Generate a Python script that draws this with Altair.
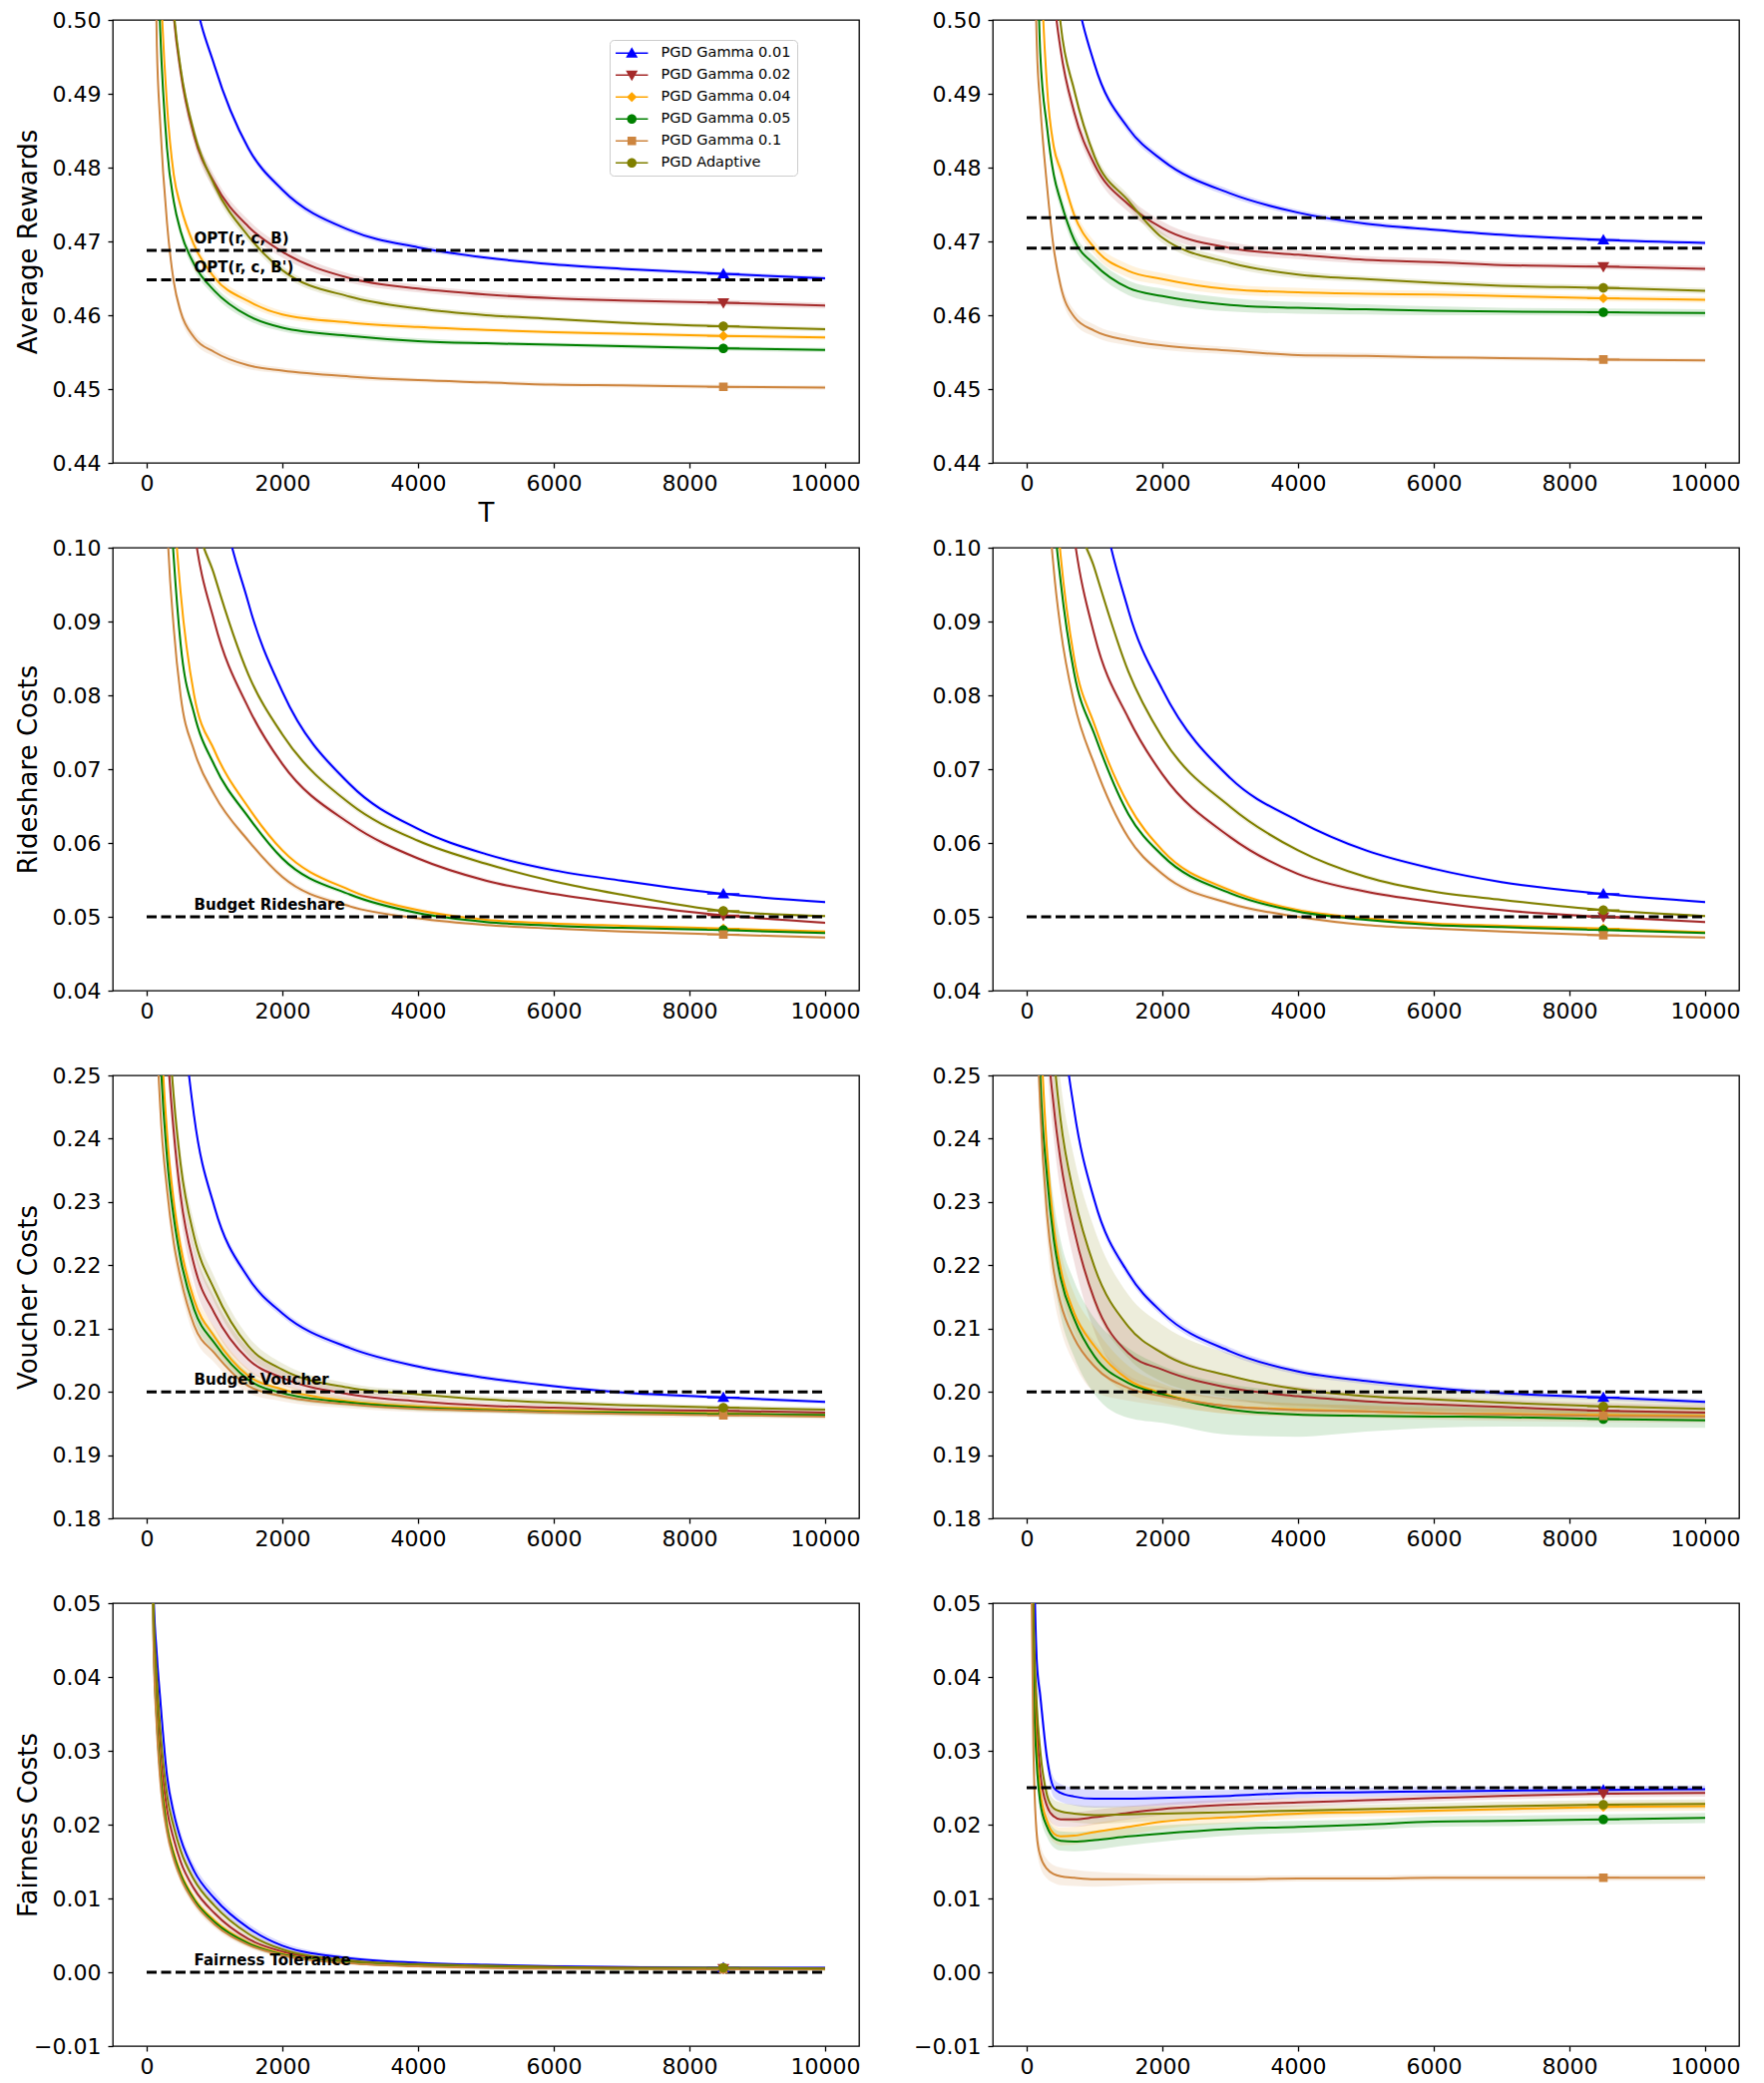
import altair as alt
import pandas as pd

FONT = "DejaVu Sans"

T = [50, 100, 150, 200, 300, 400, 500, 700, 1000, 1500, 2000, 3000, 4000, 5000, 6000, 7000, 8500, 10000]
MARKER_T = 8500
XTICKS = [0, 2000, 4000, 6000, 8000, 10000]
HLINE_T = [0, 10000]
LABEL_T = 700

SERIES = ["PGD Gamma 0.01", "PGD Gamma 0.02", "PGD Gamma 0.04",
          "PGD Gamma 0.05", "PGD Gamma 0.1", "PGD Adaptive"]
COLORS = ["#0000ff", "#a52a2a", "#ffa500", "#008000", "#cd853f", "#808000"]

_seg = "M-2.7,-0.13H2.7V0.13H-2.7Z"
_circ = "M-0.8,0A0.8,0.8 0 1,1 0.8,0A0.8,0.8 0 1,1 -0.8,0Z"
SHAPES = [_seg + "M0,-1L1,0.75H-1Z",
          _seg + "M-1,-0.75H1L0,1Z",
          _seg + "M0,-0.85L0.85,0L0,0.85L-0.85,0Z",
          _seg + _circ,
          _seg + "M-0.72,-0.72H0.72V0.72H-0.72Z",
          _seg + _circ]

# ---------------- Average Rewards ----------------
REW_L = {
    "PGD Gamma 0.01": [0.80, 0.66, 0.61, 0.58, 0.548, 0.530, 0.518, 0.5040, 0.4938, 0.4826, 0.4770, 0.4715, 0.4692, 0.4678, 0.4669, 0.4663, 0.4656, 0.4650],
    "PGD Gamma 0.02": [0.75, 0.62, 0.57, 0.545, 0.515, 0.5005, 0.4930, 0.4843, 0.4779, 0.4720, 0.4686, 0.4650, 0.4636, 0.4628, 0.4623, 0.4620, 0.4617, 0.4613],
    "PGD Gamma 0.04": [0.65, 0.557, 0.524, 0.507, 0.4885, 0.4790, 0.4748, 0.4695, 0.4651, 0.4619, 0.4601, 0.4590, 0.4584, 0.4580, 0.4577, 0.4575, 0.4572, 0.4570],
    "PGD Gamma 0.05": [0.62, 0.54, 0.513, 0.4985, 0.4826, 0.4754, 0.4714, 0.4669, 0.4633, 0.4599, 0.4583, 0.4572, 0.4565, 0.4562, 0.4560, 0.4558, 0.4555, 0.4553],
    "PGD Gamma 0.1":  [0.58, 0.525, 0.4965, 0.4860, 0.4725, 0.4645, 0.4605, 0.4570, 0.4550, 0.4532, 0.4525, 0.4517, 0.4512, 0.4509, 0.4506, 0.4505, 0.4503, 0.4502],
    "PGD Adaptive":   [0.75, 0.62, 0.57, 0.545, 0.516, 0.5012, 0.4935, 0.4847, 0.4776, 0.4707, 0.4661, 0.4625, 0.4609, 0.4600, 0.4595, 0.4590, 0.4585, 0.4581],
}
BAND_REW_L = {
    "PGD Gamma 0.01": [0.0010, 0.0010, 0.0010, 0.0010, 0.0009, 0.0008, 0.0008, 0.0007, 0.0006, 0.0005, 0.0005, 0.0004, 0.0004, 0.0003, 0.0003, 0.0003, 0.0003, 0.0003],
    "PGD Gamma 0.02": [0.0015, 0.0015, 0.0015, 0.0015, 0.0014, 0.0013, 0.0012, 0.0011, 0.0010, 0.0009, 0.0008, 0.0006, 0.0005, 0.0005, 0.0004, 0.0004, 0.0004, 0.0004],
    "PGD Gamma 0.04": [0.0010, 0.0010, 0.0010, 0.0010, 0.0009, 0.0009, 0.0008, 0.0008, 0.0007, 0.0006, 0.0005, 0.0004, 0.0004, 0.0003, 0.0003, 0.0003, 0.0003, 0.0003],
    "PGD Gamma 0.05": [0.0010, 0.0010, 0.0010, 0.0010, 0.0009, 0.0009, 0.0008, 0.0008, 0.0007, 0.0006, 0.0005, 0.0004, 0.0004, 0.0003, 0.0003, 0.0003, 0.0003, 0.0003],
    "PGD Gamma 0.1":  [0.0010, 0.0010, 0.0010, 0.0010, 0.0009, 0.0008, 0.0008, 0.0007, 0.0006, 0.0005, 0.0004, 0.0004, 0.0003, 0.0003, 0.0003, 0.0003, 0.0003, 0.0003],
    "PGD Adaptive":   [0.0012, 0.0012, 0.0012, 0.0012, 0.0011, 0.0010, 0.0009, 0.0008, 0.0008, 0.0007, 0.0006, 0.0005, 0.0004, 0.0004, 0.0003, 0.0003, 0.0003, 0.0003],
}
REW_R = {
    "PGD Gamma 0.01": [0.75, 0.68, 0.64, 0.60, 0.555, 0.533, 0.520, 0.5055, 0.4940, 0.4853, 0.4810, 0.4765, 0.4739, 0.4724, 0.4716, 0.4709, 0.4702, 0.4698],
    "PGD Gamma 0.02": [0.68, 0.60, 0.565, 0.545, 0.518, 0.5035, 0.4960, 0.4875, 0.4804, 0.4750, 0.4718, 0.4691, 0.4682, 0.4675, 0.4672, 0.4668, 0.4666, 0.4663],
    "PGD Gamma 0.04": [0.62, 0.57, 0.535, 0.512, 0.491, 0.4828, 0.4797, 0.4736, 0.4691, 0.4660, 0.4649, 0.4635, 0.4631, 0.4629, 0.4628, 0.4626, 0.4623, 0.4621],
    "PGD Gamma 0.05": [0.60, 0.55, 0.515, 0.4955, 0.4855, 0.4790, 0.4755, 0.4702, 0.4669, 0.4637, 0.4626, 0.4614, 0.4610, 0.4608, 0.4606, 0.4605, 0.4604, 0.4603],
    "PGD Gamma 0.1":  [0.60, 0.525, 0.4965, 0.4885, 0.4775, 0.4690, 0.4640, 0.4598, 0.4579, 0.4566, 0.4559, 0.4552, 0.4546, 0.4545, 0.4543, 0.4542, 0.4540, 0.4539],
    "PGD Adaptive":   [0.72, 0.63, 0.585, 0.56, 0.527, 0.5100, 0.4995, 0.4905, 0.4815, 0.4755, 0.4705, 0.4671, 0.4655, 0.4649, 0.4644, 0.4640, 0.4637, 0.4633],
}
BAND_REW_R = {
    "PGD Gamma 0.01": [0.0010, 0.0010, 0.0010, 0.0010, 0.0009, 0.0008, 0.0008, 0.0007, 0.0006, 0.0006, 0.0005, 0.0005, 0.0004, 0.0004, 0.0003, 0.0003, 0.0003, 0.0003],
    "PGD Gamma 0.02": [0.0015, 0.0015, 0.0015, 0.0014, 0.0013, 0.0012, 0.0012, 0.0011, 0.0010, 0.0010, 0.0009, 0.0008, 0.0006, 0.0005, 0.0005, 0.0004, 0.0004, 0.0004],
    "PGD Gamma 0.04": [0.0012, 0.0012, 0.0012, 0.0012, 0.0011, 0.0010, 0.0010, 0.0009, 0.0009, 0.0009, 0.0008, 0.0007, 0.0006, 0.0005, 0.0005, 0.0004, 0.0004, 0.0004],
    "PGD Gamma 0.05": [0.0012, 0.0012, 0.0012, 0.0012, 0.0011, 0.0011, 0.0011, 0.0010, 0.0010, 0.0010, 0.0010, 0.0009, 0.0008, 0.0007, 0.0006, 0.0005, 0.0005, 0.0005],
    "PGD Gamma 0.1":  [0.0012, 0.0012, 0.0012, 0.0012, 0.0011, 0.0010, 0.0010, 0.0009, 0.0008, 0.0007, 0.0006, 0.0005, 0.0004, 0.0004, 0.0003, 0.0003, 0.0003, 0.0003],
    "PGD Adaptive":   [0.0012, 0.0012, 0.0012, 0.0012, 0.0011, 0.0010, 0.0010, 0.0009, 0.0008, 0.0008, 0.0007, 0.0006, 0.0005, 0.0004, 0.0004, 0.0004, 0.0004, 0.0004],
}

# ---------------- Rideshare Costs ----------------
RIDE_L = {
    "PGD Gamma 0.01": [1.00, 0.75, 0.51, 0.40, 0.28, 0.22, 0.185, 0.145, 0.114, 0.0925, 0.0805, 0.0679, 0.0619, 0.0585, 0.0563, 0.0549, 0.0531, 0.0520],
    "PGD Gamma 0.02": [0.60, 0.35, 0.26, 0.21, 0.16, 0.135, 0.12, 0.1025, 0.0899, 0.0783, 0.0707, 0.0626, 0.0579, 0.0549, 0.0531, 0.0518, 0.0502, 0.0492],
    "PGD Gamma 0.04": [0.50, 0.28, 0.205, 0.165, 0.125, 0.106, 0.094, 0.080, 0.0725, 0.0648, 0.0590, 0.0536, 0.0509, 0.0496, 0.0491, 0.0488, 0.0484, 0.0480],
    "PGD Gamma 0.05": [0.45, 0.25, 0.185, 0.15, 0.115, 0.0985, 0.087, 0.0775, 0.0705, 0.0635, 0.0579, 0.0530, 0.0505, 0.0493, 0.0488, 0.0485, 0.0482, 0.0478],
    "PGD Gamma 0.1":  [0.40, 0.23, 0.17, 0.14, 0.104, 0.089, 0.080, 0.0725, 0.0665, 0.0603, 0.0554, 0.0514, 0.0498, 0.0489, 0.0484, 0.0480, 0.0476, 0.0472],
    "PGD Adaptive":   [0.70, 0.40, 0.30, 0.24, 0.175, 0.145, 0.125, 0.106, 0.0962, 0.0828, 0.0747, 0.0653, 0.0603, 0.0572, 0.0548, 0.0530, 0.0508, 0.0501],
}
RIDE_R = {
    "PGD Gamma 0.01": [1.00, 0.75, 0.50, 0.39, 0.27, 0.21, 0.178, 0.140, 0.113, 0.0915, 0.0808, 0.0688, 0.0630, 0.0590, 0.0565, 0.0547, 0.0531, 0.0520],
    "PGD Gamma 0.02": [0.60, 0.35, 0.26, 0.21, 0.16, 0.133, 0.118, 0.1015, 0.0881, 0.0769, 0.0693, 0.0608, 0.0558, 0.0534, 0.0520, 0.0509, 0.0500, 0.0493],
    "PGD Gamma 0.04": [0.50, 0.29, 0.21, 0.17, 0.13, 0.11, 0.099, 0.085, 0.0760, 0.0652, 0.0590, 0.0536, 0.0509, 0.0498, 0.0491, 0.0488, 0.0484, 0.0479],
    "PGD Gamma 0.05": [0.48, 0.28, 0.20, 0.16, 0.125, 0.105, 0.0955, 0.083, 0.0747, 0.0639, 0.0583, 0.0532, 0.0507, 0.0496, 0.0489, 0.0486, 0.0482, 0.0478],
    "PGD Gamma 0.1":  [0.40, 0.23, 0.17, 0.14, 0.11, 0.097, 0.089, 0.079, 0.0706, 0.0607, 0.0558, 0.0518, 0.0500, 0.0489, 0.0484, 0.0480, 0.0475, 0.0472],
    "PGD Adaptive":   [0.70, 0.40, 0.30, 0.24, 0.175, 0.145, 0.125, 0.1065, 0.0972, 0.0832, 0.0743, 0.0649, 0.0590, 0.0554, 0.0534, 0.0523, 0.0509, 0.0501],
}
BAND_RIDE = {
    "PGD Gamma 0.01": [0.0008, 0.0008, 0.0008, 0.0008, 0.0008, 0.0008, 0.0008, 0.0007, 0.0006, 0.0005, 0.0005, 0.0004, 0.0003, 0.0003, 0.0003, 0.0002, 0.0002, 0.0002],
    "PGD Gamma 0.02": [0.0008, 0.0008, 0.0008, 0.0008, 0.0008, 0.0008, 0.0008, 0.0007, 0.0006, 0.0005, 0.0004, 0.0004, 0.0003, 0.0003, 0.0002, 0.0002, 0.0002, 0.0002],
    "PGD Gamma 0.04": [0.0008, 0.0008, 0.0008, 0.0008, 0.0008, 0.0007, 0.0007, 0.0006, 0.0005, 0.0004, 0.0004, 0.0003, 0.0003, 0.0002, 0.0002, 0.0002, 0.0002, 0.0002],
    "PGD Gamma 0.05": [0.0008, 0.0008, 0.0008, 0.0008, 0.0008, 0.0007, 0.0007, 0.0006, 0.0005, 0.0004, 0.0004, 0.0003, 0.0003, 0.0002, 0.0002, 0.0002, 0.0002, 0.0002],
    "PGD Gamma 0.1":  [0.0008, 0.0008, 0.0008, 0.0008, 0.0008, 0.0007, 0.0007, 0.0006, 0.0005, 0.0004, 0.0004, 0.0003, 0.0003, 0.0002, 0.0002, 0.0002, 0.0002, 0.0002],
    "PGD Adaptive":   [0.0008, 0.0008, 0.0008, 0.0008, 0.0008, 0.0008, 0.0008, 0.0007, 0.0006, 0.0005, 0.0004, 0.0004, 0.0003, 0.0003, 0.0002, 0.0002, 0.0002, 0.0002],
}

# ---------------- Voucher Costs ----------------
VOU_L = {
    "PGD Gamma 0.01": [0.60, 0.45, 0.40, 0.36, 0.309, 0.281, 0.264, 0.2435, 0.2292, 0.2180, 0.2124, 0.2069, 0.2040, 0.2022, 0.2009, 0.1999, 0.1991, 0.1984],
    "PGD Gamma 0.02": [0.52, 0.37, 0.315, 0.285, 0.256, 0.241, 0.231, 0.220, 0.2124, 0.2051, 0.2022, 0.1996, 0.1985, 0.1978, 0.1975, 0.1972, 0.1970, 0.1967],
    "PGD Gamma 0.04": [0.45, 0.33, 0.285, 0.262, 0.241, 0.230, 0.223, 0.2145, 0.2087, 0.2025, 0.2004, 0.1985, 0.1977, 0.1973, 0.1970, 0.1968, 0.1966, 0.1963],
    "PGD Gamma 0.05": [0.42, 0.31, 0.27, 0.254, 0.237, 0.2275, 0.221, 0.213, 0.2077, 0.2019, 0.1998, 0.1983, 0.1975, 0.1971, 0.1968, 0.1967, 0.1965, 0.1963],
    "PGD Gamma 0.1":  [0.40, 0.29, 0.258, 0.245, 0.232, 0.2235, 0.218, 0.2105, 0.2061, 0.2009, 0.1993, 0.1980, 0.1973, 0.1970, 0.1967, 0.1965, 0.1963, 0.1961],
    "PGD Adaptive":   [0.55, 0.39, 0.33, 0.295, 0.263, 0.2465, 0.236, 0.2245, 0.2161, 0.2072, 0.2035, 0.2006, 0.1996, 0.1988, 0.1983, 0.1979, 0.1975, 0.1972],
}
BAND_VOU_L = {
    "PGD Gamma 0.01": [0.0010, 0.0010, 0.0010, 0.0010, 0.0010, 0.0010, 0.0010, 0.0009, 0.0008, 0.0007, 0.0006, 0.0005, 0.0004, 0.0004, 0.0003, 0.0003, 0.0003, 0.0003],
    "PGD Gamma 0.02": [0.0030, 0.0030, 0.0030, 0.0030, 0.0030, 0.0030, 0.0030, 0.0028, 0.0025, 0.0018, 0.0012, 0.0008, 0.0006, 0.0005, 0.0005, 0.0004, 0.0004, 0.0004],
    "PGD Gamma 0.04": [0.0020, 0.0020, 0.0020, 0.0020, 0.0020, 0.0020, 0.0018, 0.0017, 0.0015, 0.0011, 0.0008, 0.0006, 0.0005, 0.0004, 0.0004, 0.0004, 0.0004, 0.0004],
    "PGD Gamma 0.05": [0.0020, 0.0020, 0.0020, 0.0020, 0.0020, 0.0020, 0.0018, 0.0017, 0.0015, 0.0011, 0.0008, 0.0006, 0.0005, 0.0004, 0.0004, 0.0004, 0.0004, 0.0004],
    "PGD Gamma 0.1":  [0.0020, 0.0020, 0.0020, 0.0020, 0.0020, 0.0020, 0.0018, 0.0017, 0.0015, 0.0011, 0.0008, 0.0006, 0.0005, 0.0004, 0.0004, 0.0004, 0.0004, 0.0004],
    "PGD Adaptive":   [0.0025, 0.0025, 0.0025, 0.0025, 0.0025, 0.0024, 0.0023, 0.0022, 0.0020, 0.0015, 0.0010, 0.0007, 0.0006, 0.0005, 0.0005, 0.0004, 0.0004, 0.0004],
}
VOU_R = {
    "PGD Gamma 0.01": [0.65, 0.47, 0.40, 0.355, 0.305, 0.278, 0.262, 0.2445, 0.2302, 0.2187, 0.2125, 0.2064, 0.2032, 0.2017, 0.2006, 0.1998, 0.1991, 0.1984],
    "PGD Gamma 0.02": [0.52, 0.37, 0.32, 0.29, 0.258, 0.245, 0.2365, 0.2255, 0.2145, 0.2061, 0.2035, 0.2006, 0.1993, 0.1985, 0.1980, 0.1976, 0.1970, 0.1967],
    "PGD Gamma 0.04": [0.44, 0.32, 0.28, 0.26, 0.238, 0.226, 0.2195, 0.2125, 0.2072, 0.2019, 0.1998, 0.1977, 0.1972, 0.1969, 0.1966, 0.1965, 0.1963, 0.1962],
    "PGD Gamma 0.05": [0.41, 0.30, 0.268, 0.25, 0.234, 0.224, 0.218, 0.2115, 0.2056, 0.2014, 0.1996, 0.1972, 0.1964, 0.1962, 0.1961, 0.1960, 0.1957, 0.1955],
    "PGD Gamma 0.1":  [0.40, 0.29, 0.26, 0.245, 0.228, 0.219, 0.214, 0.2085, 0.2040, 0.2006, 0.1993, 0.1977, 0.1971, 0.1969, 0.1966, 0.1964, 0.1962, 0.1961],
    "PGD Adaptive":   [0.56, 0.40, 0.345, 0.31, 0.272, 0.2535, 0.243, 0.231, 0.2197, 0.2103, 0.2061, 0.2025, 0.2004, 0.1993, 0.1988, 0.1983, 0.1977, 0.1973],
}
BAND_VOU_R = {
    "PGD Gamma 0.01": [0.0010, 0.0010, 0.0010, 0.0010, 0.0010, 0.0010, 0.0010, 0.0009, 0.0008, 0.0007, 0.0006, 0.0006, 0.0005, 0.0005, 0.0004, 0.0004, 0.0004, 0.0004],
    "PGD Gamma 0.02": [0.0050, 0.0050, 0.0050, 0.0050, 0.0050, 0.0050, 0.0050, 0.0050, 0.0050, 0.0040, 0.0030, 0.0020, 0.0015, 0.0013, 0.0012, 0.0012, 0.0012, 0.0012],
    "PGD Gamma 0.04": [0.0030, 0.0030, 0.0030, 0.0030, 0.0030, 0.0030, 0.0030, 0.0030, 0.0030, 0.0022, 0.0015, 0.0012, 0.0010, 0.0009, 0.0008, 0.0008, 0.0008, 0.0008],
    "PGD Gamma 0.05": [0.0060, 0.0060, 0.0060, 0.0060, 0.0060, 0.0060, 0.0060, 0.0060, 0.0060, 0.0055, 0.0045, 0.0040, 0.0035, 0.0025, 0.0018, 0.0015, 0.0013, 0.0012],
    "PGD Gamma 0.1":  [0.0040, 0.0040, 0.0040, 0.0040, 0.0040, 0.0040, 0.0040, 0.0040, 0.0040, 0.0020, 0.0015, 0.0012, 0.0010, 0.0010, 0.0010, 0.0010, 0.0010, 0.0010],
    "PGD Adaptive":   [0.0060, 0.0060, 0.0060, 0.0060, 0.0060, 0.0060, 0.0060, 0.0060, 0.0060, 0.0050, 0.0045, 0.0035, 0.0030, 0.0022, 0.0018, 0.0015, 0.0013, 0.0012],
}

# ---------------- Fairness Costs ----------------
FAIR_L = {
    "PGD Gamma 0.01": [0.10, 0.052, 0.043, 0.037, 0.0266, 0.0215, 0.0181, 0.0137, 0.0100, 0.0060, 0.0036, 0.0019, 0.0013, 0.0010, 0.0008, 0.0007, 0.0006, 0.0006],
    "PGD Gamma 0.02": [0.10, 0.048, 0.037, 0.030, 0.022, 0.018, 0.0150, 0.0113, 0.0080, 0.0045, 0.0028, 0.0015, 0.0010, 0.0008, 0.0007, 0.0006, 0.0005, 0.0005],
    "PGD Gamma 0.04": [0.10, 0.047, 0.035, 0.028, 0.020, 0.0162, 0.0135, 0.0100, 0.0070, 0.0040, 0.0025, 0.0013, 0.0009, 0.0007, 0.0006, 0.0005, 0.0005, 0.0004],
    "PGD Gamma 0.05": [0.10, 0.046, 0.034, 0.027, 0.0195, 0.0158, 0.0132, 0.0098, 0.0068, 0.0039, 0.0024, 0.0013, 0.0009, 0.0007, 0.0006, 0.0005, 0.0005, 0.0004],
    "PGD Gamma 0.1":  [0.10, 0.045, 0.033, 0.026, 0.019, 0.0153, 0.0128, 0.0095, 0.0065, 0.0037, 0.0023, 0.0012, 0.0008, 0.0006, 0.0005, 0.0005, 0.0004, 0.0004],
    "PGD Adaptive":   [0.10, 0.050, 0.040, 0.033, 0.024, 0.0197, 0.0165, 0.0125, 0.0090, 0.0052, 0.0031, 0.0016, 0.0011, 0.0009, 0.0007, 0.0006, 0.0006, 0.0005],
}
BAND_FAIR_L = {
    "PGD Gamma 0.01": [0.0020, 0.0020, 0.0018, 0.0016, 0.0014, 0.0012, 0.0010, 0.0009, 0.0008, 0.0006, 0.0005, 0.0003, 0.0002, 0.0002, 0.0002, 0.0002, 0.0002, 0.0002],
    "PGD Gamma 0.02": [0.0015, 0.0015, 0.0013, 0.0011, 0.0009, 0.0008, 0.0007, 0.0006, 0.0005, 0.0004, 0.0003, 0.0002, 0.0002, 0.0002, 0.0002, 0.0002, 0.0002, 0.0002],
    "PGD Gamma 0.04": [0.0015, 0.0015, 0.0013, 0.0011, 0.0009, 0.0008, 0.0007, 0.0006, 0.0005, 0.0004, 0.0003, 0.0002, 0.0002, 0.0002, 0.0002, 0.0002, 0.0002, 0.0002],
    "PGD Gamma 0.05": [0.0015, 0.0015, 0.0013, 0.0011, 0.0009, 0.0008, 0.0007, 0.0006, 0.0005, 0.0004, 0.0003, 0.0002, 0.0002, 0.0002, 0.0002, 0.0002, 0.0002, 0.0002],
    "PGD Gamma 0.1":  [0.0015, 0.0015, 0.0013, 0.0011, 0.0009, 0.0008, 0.0007, 0.0006, 0.0005, 0.0004, 0.0003, 0.0002, 0.0002, 0.0002, 0.0002, 0.0002, 0.0002, 0.0002],
    "PGD Adaptive":   [0.0015, 0.0015, 0.0013, 0.0011, 0.0009, 0.0008, 0.0007, 0.0006, 0.0005, 0.0004, 0.0003, 0.0002, 0.0002, 0.0002, 0.0002, 0.0002, 0.0002, 0.0002],
}
FAIR_R = {
    "PGD Gamma 0.01": [0.09, 0.060, 0.042, 0.0375, 0.0290, 0.0250, 0.0243, 0.0238, 0.0235, 0.0235, 0.0236, 0.0239, 0.0243, 0.0244, 0.0245, 0.0246, 0.0247, 0.0248],
    "PGD Gamma 0.02": [0.09, 0.045, 0.033, 0.027, 0.0225, 0.0211, 0.0207, 0.0207, 0.0210, 0.0216, 0.0221, 0.0227, 0.0230, 0.0233, 0.0236, 0.0239, 0.0242, 0.0243],
    "PGD Gamma 0.04": [0.085, 0.042, 0.030, 0.0245, 0.0205, 0.0188, 0.0184, 0.0185, 0.0190, 0.0197, 0.0204, 0.0210, 0.0215, 0.0217, 0.0219, 0.0221, 0.0224, 0.0225],
    "PGD Gamma 0.05": [0.08, 0.040, 0.028, 0.0230, 0.0197, 0.0182, 0.0178, 0.0177, 0.0179, 0.0184, 0.0188, 0.0194, 0.0197, 0.0200, 0.0204, 0.0205, 0.0207, 0.0209],
    "PGD Gamma 0.1":  [0.07, 0.030, 0.0185, 0.0158, 0.0140, 0.0133, 0.0130, 0.0128, 0.0126, 0.0126, 0.0126, 0.0126, 0.0127, 0.0127, 0.0128, 0.0128, 0.0128, 0.0128],
    "PGD Adaptive":   [0.09, 0.050, 0.036, 0.030, 0.024, 0.0222, 0.0218, 0.0215, 0.0213, 0.0214, 0.0215, 0.0217, 0.0219, 0.0221, 0.0223, 0.0225, 0.0227, 0.0228],
}
BAND_FAIR_R = {
    "PGD Gamma 0.01": [0.0030, 0.0030, 0.0025, 0.0020, 0.0015, 0.0013, 0.0012, 0.0012, 0.0012, 0.0011, 0.0010, 0.0008, 0.0007, 0.0006, 0.0006, 0.0005, 0.0005, 0.0005],
    "PGD Gamma 0.02": [0.0030, 0.0025, 0.0020, 0.0015, 0.0012, 0.0011, 0.0010, 0.0010, 0.0010, 0.0009, 0.0008, 0.0007, 0.0006, 0.0005, 0.0005, 0.0005, 0.0005, 0.0005],
    "PGD Gamma 0.04": [0.0030, 0.0025, 0.0020, 0.0015, 0.0013, 0.0012, 0.0012, 0.0012, 0.0012, 0.0011, 0.0010, 0.0008, 0.0007, 0.0006, 0.0006, 0.0006, 0.0006, 0.0006],
    "PGD Gamma 0.05": [0.0030, 0.0025, 0.0020, 0.0016, 0.0014, 0.0013, 0.0013, 0.0013, 0.0013, 0.0012, 0.0011, 0.0009, 0.0008, 0.0007, 0.0007, 0.0007, 0.0007, 0.0007],
    "PGD Gamma 0.1":  [0.0030, 0.0025, 0.0018, 0.0015, 0.0013, 0.0012, 0.0012, 0.0011, 0.0010, 0.0008, 0.0006, 0.0005, 0.0004, 0.0004, 0.0004, 0.0004, 0.0004, 0.0004],
    "PGD Adaptive":   [0.0030, 0.0025, 0.0020, 0.0016, 0.0013, 0.0012, 0.0012, 0.0012, 0.0012, 0.0011, 0.0010, 0.0008, 0.0007, 0.0006, 0.0006, 0.0006, 0.0006, 0.0006],
}

# reference lines and their labels
HL_REW_L = [0.4688, 0.4648]
HL_REW_L_TEXT = ["OPT(r, c, B)", "OPT(r, c, B')"]
HL_REW_R = [0.4732, 0.4691]
HL_RIDE = [0.05]
HL_RIDE_TEXT = ["Budget Rideshare"]
HL_VOU = [0.20]
HL_VOU_TEXT = ["Budget Voucher"]
HL_FAIR_L = [0.0]
HL_FAIR_L_TEXT = ["Fairness Tolerance"]
HL_FAIR_R = [0.025]

YT_REW = [0.44, 0.45, 0.46, 0.47, 0.48, 0.49, 0.50]
YT_RIDE = [0.04, 0.05, 0.06, 0.07, 0.08, 0.09, 0.10]
YT_VOU = [0.18, 0.19, 0.20, 0.21, 0.22, 0.23, 0.24, 0.25]
YT_FAIR = [-0.01, 0.00, 0.01, 0.02, 0.03, 0.04, 0.05]

W, H = 748, 444


def panel(vals, bands, yticks, ytitle, hlines, htexts=None, show_legend=False, xtitle=None):
    rows = []
    for s in SERIES:
        for t, v, b in zip(T, vals[s], bands[s]):
            rows.append({"T": t, "series": s, "value": v, "lo": v - b, "hi": v + b})
    df = pd.DataFrame(rows)

    xscale = alt.Scale(domain=[-500, 10500], nice=False, zero=False)
    xaxis = alt.Axis(values=XTICKS, format="d", title=xtitle)
    yscale = alt.Scale(domain=[yticks[0], yticks[-1]], nice=False, zero=False)
    yaxis = alt.Axis(values=yticks, format=".2f", title=ytitle)

    def X(f):
        return alt.X(f, type="quantitative", scale=xscale, axis=xaxis)

    def Y(f):
        return alt.Y(f, type="quantitative", scale=yscale, axis=yaxis)

    cscale = alt.Scale(domain=SERIES, range=COLORS)
    sscale = alt.Scale(domain=SERIES, range=SHAPES)

    if show_legend:
        leg = alt.Legend(title=None, orient="none", legendX=498, legendY=20,
                         labelFont=FONT, labelFontSize=14.5, labelColor="black",
                         symbolSize=144, symbolOffset=9, labelOffset=22,
                         padding=6, rowPadding=7, fillColor="white",
                         strokeColor="#cccccc", cornerRadius=4,
                         symbolStrokeWidth=0, labelLimit=300, symbolOpacity=1)
    else:
        leg = None

    base = alt.Chart(df)
    band = base.mark_area(clip=True, interpolate="monotone", opacity=0.14).encode(
        x=X("T"), y=Y("lo"), y2="hi:Q",
        color=alt.Color("series:N", scale=cscale, legend=leg))
    line = base.mark_line(clip=True, interpolate="monotone", strokeWidth=2).encode(
        x=X("T"), y=Y("value"),
        color=alt.Color("series:N", scale=cscale, legend=leg))

    hdf = pd.DataFrame({"x0": [HLINE_T[0]] * len(hlines),
                        "x1": [HLINE_T[1]] * len(hlines),
                        "value": hlines})
    rule = alt.Chart(hdf).mark_rule(strokeDash=[10, 4.5], strokeWidth=3, color="black").encode(
        x=X("x0"), x2="x1:Q", y=Y("value"))

    pdf = df[df["T"] == MARKER_T]
    pts = alt.Chart(pdf).mark_point(filled=True, size=144, opacity=1, clip=True).encode(
        x=X("T"), y=Y("value"),
        color=alt.Color("series:N", scale=cscale, legend=leg),
        shape=alt.Shape("series:N", scale=sscale, legend=leg))

    layers = [band, line, rule, pts]
    if htexts:
        tdf = pd.DataFrame({"tx": [LABEL_T] * len(hlines), "value": hlines, "label": htexts})
        txt = alt.Chart(tdf).mark_text(align="left", baseline="alphabetic", dy=-7,
                                       fontSize=15, fontWeight="bold", font=FONT,
                                       color="black").encode(
            x=X("tx"), y=Y("value"), text="label:N")
        layers.append(txt)
    return alt.layer(*layers).properties(width=W, height=H)


pA = panel(REW_L, BAND_REW_L, YT_REW, "Average Rewards", HL_REW_L, HL_REW_L_TEXT, show_legend=True, xtitle="T")
pB = panel(REW_R, BAND_REW_R, YT_REW, None, HL_REW_R)
pC = panel(RIDE_L, BAND_RIDE, YT_RIDE, "Rideshare Costs", HL_RIDE, HL_RIDE_TEXT)
pD = panel(RIDE_R, BAND_RIDE, YT_RIDE, None, HL_RIDE)
pE = panel(VOU_L, BAND_VOU_L, YT_VOU, "Voucher Costs", HL_VOU, HL_VOU_TEXT)
pF = panel(VOU_R, BAND_VOU_R, YT_VOU, None, HL_VOU)
pG = panel(FAIR_L, BAND_FAIR_L, YT_FAIR, "Fairness Costs", HL_FAIR_L, HL_FAIR_L_TEXT)
pH = panel(FAIR_R, BAND_FAIR_R, YT_FAIR, None, HL_FAIR_R)

chart = alt.concat(pA, pB, pC, pD, pE, pF, pG, pH, columns=2,
                   spacing={"row": 9, "column": 51}, align="all").resolve_scale(
    color="independent", shape="independent").properties(
    padding={"left": 6, "top": 0, "right": 0, "bottom": 0}
).configure(font=FONT).configure_view(
    stroke="black", strokeWidth=1.3
).configure_axis(
    labelFont=FONT, labelFontSize=22, labelColor="black",
    titleFont=FONT, titleFontSize=26, titleFontWeight="normal", titleColor="black",
    tickColor="black", tickWidth=1.3, tickSize=5, domain=False, grid=False,
    labelFlush=False, labelOverlap=False
).configure_axisY(
    labelPadding=7, titlePadding=11, minExtent=61, maxExtent=61
).configure_axisX(
    labelPadding=5, titlePadding=6
)

chart.save("out.html", embed_options={"renderer": "svg", "actions": False})
